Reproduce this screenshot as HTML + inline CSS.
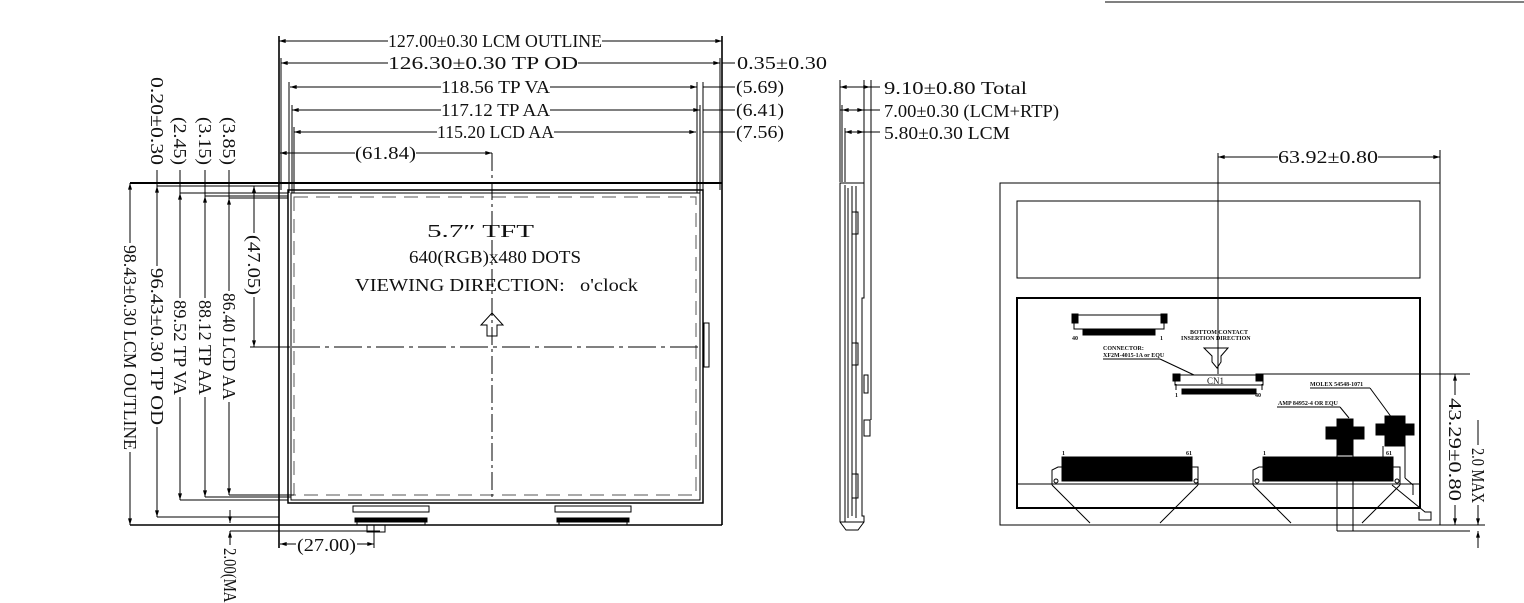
<!DOCTYPE html>
<html><head><meta charset="utf-8"><style>
html,body{margin:0;padding:0;background:#fff;}
svg{display:block;}
text{font-family:"Liberation Serif","Noto Serif CJK SC",serif;fill:#111;}
.t{font-size:18px;}
.s{font-size:6px;font-family:"Liberation Sans",sans-serif;font-weight:bold;}
</style></head><body>
<svg width="1524" height="603" viewBox="0 0 1524 603" xmlns="http://www.w3.org/2000/svg">
<defs>
<marker id="a" viewBox="0 0 10 6" refX="10" refY="3" markerWidth="8" markerHeight="4" orient="auto-start-reverse"><path d="M0,0L10,3L0,6z" fill="#000"/></marker>
</defs>
<g stroke="#000" fill="none" stroke-width="1">
<line x1="1105" y1="2" x2="1524" y2="2"/>
<line x1="279" y1="41" x2="388" y2="41" marker-start="url(#a)"/><line x1="602" y1="41" x2="722" y2="41" marker-end="url(#a)"/>
<line x1="281" y1="63" x2="388" y2="63" marker-start="url(#a)"/><line x1="578" y1="63" x2="720" y2="63" marker-end="url(#a)"/>
<line x1="722" y1="63" x2="735" y2="63"/>
<line x1="290" y1="87" x2="441" y2="87" marker-start="url(#a)"/><line x1="550" y1="87" x2="697" y2="87" marker-end="url(#a)"/><line x1="703" y1="87" x2="735" y2="87"/>
<line x1="292" y1="110" x2="441" y2="110" marker-start="url(#a)"/><line x1="550" y1="110" x2="700" y2="110" marker-end="url(#a)"/><line x1="703" y1="110" x2="735" y2="110"/>
<line x1="294" y1="132" x2="437" y2="132" marker-start="url(#a)"/><line x1="554" y1="132" x2="696" y2="132" marker-end="url(#a)"/><line x1="703" y1="132" x2="735" y2="132"/>
<line x1="280" y1="153" x2="355" y2="153" marker-start="url(#a)"/><line x1="416" y1="153" x2="492" y2="153" marker-end="url(#a)"/>
<line x1="279" y1="36" x2="279" y2="548" stroke-width="1.6"/>
<line x1="722" y1="36" x2="722" y2="525" stroke-width="1.6"/>
<line x1="281" y1="58" x2="281" y2="190"/><line x1="720" y1="58" x2="720" y2="190"/>
<line x1="289" y1="82" x2="289" y2="193"/><line x1="697" y1="82" x2="697" y2="193"/>
<line x1="292" y1="105" x2="292" y2="193"/><line x1="700" y1="105" x2="700" y2="193"/>
<line x1="294" y1="127" x2="294" y2="193"/><line x1="703" y1="82" x2="703" y2="193"/>
<line x1="130" y1="183" x2="722" y2="183" stroke-width="2"/>
<line x1="130" y1="525" x2="722" y2="525" stroke-width="1.5"/>
<line x1="157" y1="186" x2="279" y2="186"/>
<line x1="157" y1="517" x2="279" y2="517"/>
<rect x="288" y="190" width="415" height="313" stroke-width="1.5"/>
<rect x="291" y="193" width="409" height="307"/>
<rect x="294" y="197" width="402" height="298" stroke="#555" stroke-dasharray="14,8"/>
<line x1="180" y1="193" x2="288" y2="193"/><line x1="205" y1="196" x2="288" y2="196"/><line x1="229" y1="198" x2="288" y2="198"/>
<line x1="180" y1="500" x2="288" y2="500"/><line x1="205" y1="497" x2="291" y2="497"/><line x1="229" y1="495" x2="294" y2="495"/>
<line x1="492" y1="153" x2="492" y2="497" stroke-dasharray="18,4,3,4"/>
<line x1="250" y1="347" x2="700" y2="347" stroke-dasharray="28,5,4,5"/>
<line x1="130" y1="183" x2="130" y2="243" marker-start="url(#a)"/><line x1="130" y1="452" x2="130" y2="525" marker-end="url(#a)"/>
<line x1="157" y1="186" x2="157" y2="266" marker-start="url(#a)"/><line x1="157" y1="427" x2="157" y2="517" marker-end="url(#a)"/>
<line x1="180" y1="193" x2="180" y2="298" marker-start="url(#a)"/><line x1="180" y1="397" x2="180" y2="500" marker-end="url(#a)"/>
<line x1="205" y1="196" x2="205" y2="298" marker-start="url(#a)"/><line x1="205" y1="397" x2="205" y2="497" marker-end="url(#a)"/>
<line x1="229" y1="198" x2="229" y2="291" marker-start="url(#a)"/><line x1="229" y1="402" x2="229" y2="495" marker-end="url(#a)"/>
<line x1="157" y1="170" x2="157" y2="186"/><line x1="180" y1="170" x2="180" y2="193"/><line x1="205" y1="170" x2="205" y2="196"/><line x1="229" y1="170" x2="229" y2="198"/>
<line x1="254" y1="186" x2="254" y2="233" marker-start="url(#a)"/><line x1="254" y1="297" x2="254" y2="347" marker-end="url(#a)"/>
<line x1="254" y1="347" x2="290" y2="347"/>
<line x1="230" y1="510" x2="230" y2="523" marker-end="url(#a)"/><line x1="230" y1="545" x2="230" y2="531" marker-end="url(#a)"/>
<line x1="230" y1="531" x2="380" y2="531"/>
<line x1="280" y1="544" x2="296" y2="544" marker-start="url(#a)"/><line x1="357" y1="544" x2="374" y2="544" marker-end="url(#a)"/>
<line x1="374" y1="525" x2="374" y2="548"/>
<rect x="353" y="506" width="76" height="6"/><rect x="555" y="506" width="76" height="6"/>
<rect x="355" y="518" width="72" height="4" fill="#000"/><rect x="557" y="518" width="72" height="4" fill="#000"/>
<line x1="357" y1="522" x2="357" y2="525"/><line x1="425" y1="522" x2="425" y2="525"/><line x1="559" y1="522" x2="559" y2="525"/><line x1="627" y1="522" x2="627" y2="525"/>
<rect x="367" y="525" width="18" height="7"/>
<rect x="704" y="323" width="5" height="44"/>
<path d="M492,313 L503,325 L497,325 L497,336 L487,336 L487,325 L481,325 Z"/>
<line x1="840" y1="87" x2="880" y2="87"/><line x1="840" y1="87" x2="852" y2="87" marker-start="url(#a)"/><line x1="858" y1="87" x2="870" y2="87" marker-end="url(#a)"/>
<line x1="840" y1="110" x2="880" y2="110"/><line x1="842" y1="110" x2="852" y2="110" marker-start="url(#a)"/><line x1="858" y1="110" x2="864" y2="110" marker-end="url(#a)"/>
<line x1="845" y1="132" x2="880" y2="132"/><line x1="845" y1="132" x2="855" y2="132" marker-start="url(#a)"/><line x1="858" y1="132" x2="864" y2="132" marker-end="url(#a)"/>
<line x1="840" y1="80" x2="840" y2="182"/><line x1="842" y1="105" x2="842" y2="182"/><line x1="845" y1="128" x2="845" y2="182"/><line x1="864" y1="80" x2="864" y2="184"/><line x1="871" y1="80" x2="871" y2="420"/>
<path d="M840,183 L864,183 L864,298 L862,298 L862,516 L864,516 L864,522 L858,530 L846,530 L840,522 Z"/>
<line x1="845" y1="185" x2="845" y2="522"/><line x1="848" y1="188" x2="848" y2="518"/><line x1="852" y1="186" x2="852" y2="516"/><line x1="856" y1="186" x2="856" y2="518"/>
<line x1="840" y1="522" x2="864" y2="522"/>
<rect x="852" y="212" width="6" height="22"/><rect x="852" y="343" width="6" height="22"/><rect x="852" y="474" width="6" height="24"/>
<rect x="864" y="375" width="4" height="18"/><rect x="864" y="420" width="6" height="16"/>
<rect x="1000" y="183" width="440" height="342"/>
<line x1="1440" y1="150" x2="1440" y2="183"/>
<line x1="1218" y1="153" x2="1218" y2="374"/>
<line x1="1218" y1="157" x2="1278" y2="157" marker-start="url(#a)"/><line x1="1378" y1="157" x2="1440" y2="157" marker-end="url(#a)"/>
<rect x="1017" y="201" width="403" height="77"/>
<rect x="1017" y="298" width="403" height="210" stroke-width="2"/>
<line x1="1017" y1="484" x2="1420" y2="484"/>
<rect x="1074" y="315" width="90" height="14"/><rect x="1072" y="314" width="6" height="9" fill="#000"/><rect x="1161" y="314" width="6" height="9" fill="#000"/>
<rect x="1083" y="329" width="72" height="6" fill="#000"/>
<path d="M1204,348 L1228,348 L1221,356 L1221,362 L1217,368 L1212,362 L1212,356 Z"/>
<rect x="1175" y="375" width="88" height="10"/><rect x="1173" y="374" width="7" height="7" fill="#000"/><rect x="1256" y="374" width="7" height="7" fill="#000"/>
<rect x="1182" y="389" width="74" height="5" fill="#000"/>
<line x1="1176" y1="384" x2="1176" y2="390"/><line x1="1262" y1="384" x2="1262" y2="390"/>
<line x1="1103" y1="359" x2="1160" y2="359"/><line x1="1160" y1="359" x2="1194" y2="375"/>
<line x1="1263" y1="374" x2="1470" y2="374"/>
<line x1="1277" y1="407" x2="1340" y2="407"/><line x1="1340" y1="407" x2="1349" y2="418"/>
<line x1="1310" y1="388" x2="1370" y2="388"/><line x1="1370" y1="388" x2="1392" y2="418"/>
<rect x="1326" y="427" width="38" height="12" fill="#000"/><rect x="1337" y="419" width="16" height="36" fill="#000"/>
<rect x="1376" y="424" width="38" height="11" fill="#000"/><rect x="1385" y="416" width="20" height="30" fill="#000"/>
<line x1="1337" y1="455" x2="1337" y2="531"/><line x1="1353" y1="455" x2="1353" y2="531"/><line x1="1337" y1="531" x2="1470" y2="531"/>
<line x1="1383" y1="446" x2="1383" y2="478"/><line x1="1405" y1="446" x2="1405" y2="478"/>
<path d="M1052,485 L1052,470 L1058,467 L1198,467 L1198,485"/>
<rect x="1062" y="457" width="130" height="24" fill="#000"/>
<path d="M1052,485 L1090,523 M1198,485 L1160,523"/>
<path d="M1253,485 L1253,470 L1259,467 L1400,467 L1400,485"/>
<rect x="1263" y="457" width="130" height="24" fill="#000"/>
<path d="M1253,485 L1291,523 M1400,485 L1362,523"/>
<path d="M1392,485 L1425,512 L1431,512 L1431,520 L1419,520 L1419,512"/>
<path d="M1405,478 L1413,485 L1413,495"/>
<circle cx="1056" cy="481" r="2"/><circle cx="1196" cy="481" r="2"/><circle cx="1257" cy="481" r="2"/><circle cx="1397" cy="481" r="2"/>
<line x1="1440" y1="525" x2="1485" y2="525"/>
<line x1="1455" y1="374" x2="1455" y2="395" marker-start="url(#a)"/><line x1="1455" y1="505" x2="1455" y2="525" marker-end="url(#a)"/>
<line x1="1478" y1="505" x2="1478" y2="525" marker-end="url(#a)"/><line x1="1478" y1="548" x2="1478" y2="531" marker-end="url(#a)"/>
<line x1="1478" y1="420" x2="1478" y2="445"/>
</g>
<g class="t">
<text x="388" y="47" textLength="214" lengthAdjust="spacingAndGlyphs">127.00±0.30 LCM OUTLINE</text>
<text x="388" y="69" textLength="190" lengthAdjust="spacingAndGlyphs">126.30±0.30 TP OD</text>
<text x="737" y="69" textLength="90" lengthAdjust="spacingAndGlyphs">0.35±0.30</text>
<text x="441" y="93" textLength="109" lengthAdjust="spacingAndGlyphs">118.56 TP VA</text>
<text x="441" y="116" textLength="109" lengthAdjust="spacingAndGlyphs">117.12 TP AA</text>
<text x="437" y="138" textLength="117" lengthAdjust="spacingAndGlyphs">115.20 LCD AA</text>
<text x="736" y="93" textLength="48" lengthAdjust="spacingAndGlyphs">(5.69)</text>
<text x="736" y="116" textLength="48" lengthAdjust="spacingAndGlyphs">(6.41)</text>
<text x="736" y="138" textLength="48" lengthAdjust="spacingAndGlyphs">(7.56)</text>
<text x="355" y="159" textLength="61" lengthAdjust="spacingAndGlyphs">(61.84)</text>
<text x="297" y="551" textLength="59" lengthAdjust="spacingAndGlyphs">(27.00)</text>
<text x="427" y="237" textLength="107" lengthAdjust="spacingAndGlyphs">5.7″ TFT</text>
<text x="409" y="263" textLength="172" lengthAdjust="spacingAndGlyphs">640(RGB)x480 DOTS</text>
<text x="355" y="291" textLength="283" lengthAdjust="spacingAndGlyphs" xml:space="preserve">VIEWING DIRECTION:   o'clock</text>
<text x="884" y="94" textLength="143" lengthAdjust="spacingAndGlyphs">9.10±0.80 Total</text>
<text x="884" y="117" textLength="175" lengthAdjust="spacingAndGlyphs">7.00±0.30 (LCM+RTP)</text>
<text x="884" y="139" textLength="126" lengthAdjust="spacingAndGlyphs">5.80±0.30 LCM</text>
<text x="1278" y="163" textLength="100" lengthAdjust="spacingAndGlyphs">63.92±0.80</text>
<g transform="translate(124,245) rotate(90)"><text x="0" y="0" textLength="205" lengthAdjust="spacingAndGlyphs">98.43±0.30 LCM OUTLINE</text></g>
<g transform="translate(151,268) rotate(90)"><text x="0" y="0" textLength="157" lengthAdjust="spacingAndGlyphs">96.43±0.30 TP OD</text></g>
<g transform="translate(174,300) rotate(90)"><text x="0" y="0" textLength="95" lengthAdjust="spacingAndGlyphs">89.52 TP VA</text></g>
<g transform="translate(199,300) rotate(90)"><text x="0" y="0" textLength="95" lengthAdjust="spacingAndGlyphs">88.12 TP AA</text></g>
<g transform="translate(223,293) rotate(90)"><text x="0" y="0" textLength="107" lengthAdjust="spacingAndGlyphs">86.40 LCD AA</text></g>
<g transform="translate(248,235) rotate(90)"><text x="0" y="0" textLength="60" lengthAdjust="spacingAndGlyphs">(47.05)</text></g>
<g transform="translate(151,77) rotate(90)"><text x="0" y="0" textLength="88" lengthAdjust="spacingAndGlyphs">0.20±0.30</text></g>
<g transform="translate(174,117) rotate(90)"><text x="0" y="0" textLength="48" lengthAdjust="spacingAndGlyphs">(2.45)</text></g>
<g transform="translate(199,117) rotate(90)"><text x="0" y="0" textLength="48" lengthAdjust="spacingAndGlyphs">(3.15)</text></g>
<g transform="translate(223,117) rotate(90)"><text x="0" y="0" textLength="48" lengthAdjust="spacingAndGlyphs">(3.85)</text></g>
<g transform="translate(224,548) rotate(90)"><text x="0" y="0" textLength="70" lengthAdjust="spacingAndGlyphs">2.00(MAX)</text></g>
<g transform="translate(1449,398) rotate(90)"><text x="0" y="0" textLength="103" lengthAdjust="spacingAndGlyphs">43.29±0.80</text></g>
<g transform="translate(1472,448) rotate(90)"><text x="0" y="0" textLength="55" lengthAdjust="spacingAndGlyphs">2.0 MAX</text></g>
</g>
<text x="1207" y="384" font-size="9" textLength="17" lengthAdjust="spacingAndGlyphs">CN1</text>
<g class="s">
<text x="1190" y="334">BOTTOM CONTACT</text>
<text x="1181" y="340">INSERTION DIRECTION</text>
<text x="1103" y="350">CONNECTOR:</text>
<text x="1103" y="357">XF2M-4015-1A or EQU</text>
<text x="1310" y="386">MOLEX 54548-1071</text>
<text x="1278" y="405">AMP 84952-4 OR EQU</text>
<text x="1072" y="340">40</text><text x="1160" y="340">1</text>
<text x="1175" y="397">1</text><text x="1255" y="397">40</text>
<text x="1062" y="455">1</text><text x="1186" y="455">61</text>
<text x="1263" y="455">1</text><text x="1386" y="455">61</text>
</g>
</svg>
</body></html>
